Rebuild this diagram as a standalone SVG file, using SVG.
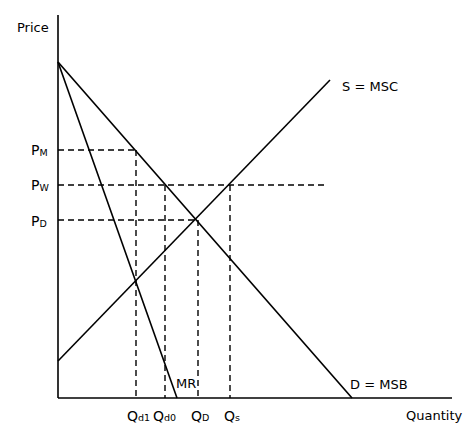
<svg xmlns="http://www.w3.org/2000/svg" width="474" height="440" viewBox="0 0 474 440">
<style>
text{font-family:"DejaVu Sans",Verdana,sans-serif;font-size:13px;fill:#000}
.p{font-size:14px}
.sub{font-size:9.5px}
.ax,.cv{stroke:#000;stroke-width:1.6;fill:none}
.dash{stroke:#000;stroke-width:1.4;stroke-dasharray:6,4;fill:none}
</style>
<rect width="474" height="440" fill="#fff"/>
<g id="axes">
<line class="ax" x1="58" y1="15" x2="58" y2="398"/>
<line class="ax" x1="58" y1="398" x2="452" y2="398"/>
<text x="17" y="32">Price</text>
<text x="406" y="420">Quantity</text>
</g>
<g id="connectors">
<line class="dash" x1="58" y1="150" x2="136" y2="150"/>
<line class="dash" x1="136" y1="150" x2="136" y2="398"/>
<line class="dash" x1="58" y1="185" x2="328" y2="185"/>
<line class="dash" x1="165" y1="185" x2="165" y2="398"/>
<line class="dash" x1="230" y1="185" x2="230" y2="398"/>
<line class="dash" x1="58" y1="220" x2="198" y2="220"/>
<line class="dash" x1="198" y1="220" x2="198" y2="398"/>
</g>
<g id="demand">
<line class="cv" x1="58" y1="62" x2="352" y2="398"/>
<text x="350" y="389">D = MSB</text>
</g>
<g id="mr">
<line class="cv" x1="58" y1="62" x2="177" y2="398"/>
<text x="176" y="388">MR</text>
</g>
<g id="supply">
<line class="cv" x1="58" y1="361" x2="330" y2="80"/>
<text x="342" y="91">S = MSC</text>
</g>
<g id="price-labels">
<text class="p" x="31" y="155">P<tspan class="sub" dy="1">M</tspan></text>
<text class="p" x="31" y="190">P<tspan class="sub" dy="1">W</tspan></text>
<text class="p" x="31" y="226">P<tspan class="sub" dy="1">D</tspan></text>
</g>
<g id="qty-labels">
<text class="p" x="127" y="421">Q<tspan class="sub">d1</tspan></text>
<text class="p" x="153" y="421">Q<tspan class="sub">d0</tspan></text>
<text class="p" x="191" y="421">Q<tspan class="sub">D</tspan></text>
<text class="p" x="224" y="421">Q<tspan class="sub">s</tspan></text>
</g>
</svg>
